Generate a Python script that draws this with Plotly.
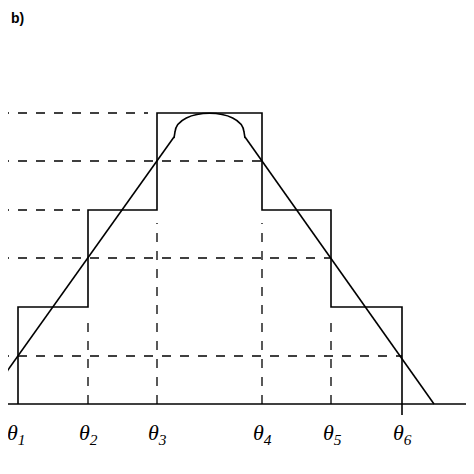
import plotly.graph_objs as go

# staircase (pixel-like units, y grows downward)
step_x = [18, 18, 88, 88, 157, 157, 262, 262, 331, 331, 402, 402]
step_y = [404, 307, 307, 210, 210, 113, 113, 210, 210, 307, 307, 404]

# slanted flanks
left_x = [0, 174]
left_y = [381, 137]
right_x = [245, 434]
right_y = [137, 404]

# horizontal dashed levels: (y, x end)
h_dash_y = [113, 161, 210, 258, 307, 356]
h_dash_end = [148, 262, 80, 331, 8, 402]

# vertical dashed lines: (x, y top)
v_dash_x = [88, 157, 262, 331]
v_dash_top = [320, 223, 223, 320]

theta_x = [16, 88, 157, 262, 332, 402]
theta_labels = ['θ<sub>%d</sub>' % i for i in range(1, 7)]

fig = go.Figure()
line = dict(color='black', width=1.6)
fig.add_trace(go.Scatter(x=step_x, y=step_y, mode='lines', line=line))
fig.add_trace(go.Scatter(x=left_x, y=left_y, mode='lines', line=line))
fig.add_trace(go.Scatter(x=right_x, y=right_y, mode='lines', line=line))

# rounded cap on top
fig.add_shape(type='path', path='M 174,138 L 175,132 C 177,107 242,107 244,132 L 245,138',
              line=line, xref='x', yref='y')

for y, xe in zip(h_dash_y, h_dash_end):
    fig.add_shape(type='line', x0=0, x1=xe, y0=y, y1=y,
                  line=dict(color='black', width=1.3, dash='dash'))
for x, yt in zip(v_dash_x, v_dash_top):
    fig.add_shape(type='line', x0=x, x1=x, y0=404, y1=yt,
                  line=dict(color='black', width=1.3, dash='dash'))

# baseline and tick
fig.add_shape(type='line', x0=0, x1=482, y0=404, y1=404, line=line)
fig.add_shape(type='line', x0=402, x1=402, y0=404, y1=415, line=line)

for x, t in zip(theta_x, theta_labels):
    fig.add_annotation(x=x, y=434, text='<i>' + t + '</i>', showarrow=False,
                       font=dict(family='Liberation Serif', size=22, color='black'))

fig.add_annotation(x=9, y=18, text='<b>b)</b>', showarrow=False, xanchor='left',
                   font=dict(family='Liberation Sans', size=14, color='black'))

# page body has an 8px margin, so the axes start at 8
fig.update_xaxes(range=[8, 482], visible=False)
fig.update_yaxes(range=[482, 8], visible=False)
fig.update_layout(width=474, height=474, margin=dict(l=0, r=0, t=0, b=0),
                  showlegend=False, plot_bgcolor='white', paper_bgcolor='white')

fig.write_html('out.html')
